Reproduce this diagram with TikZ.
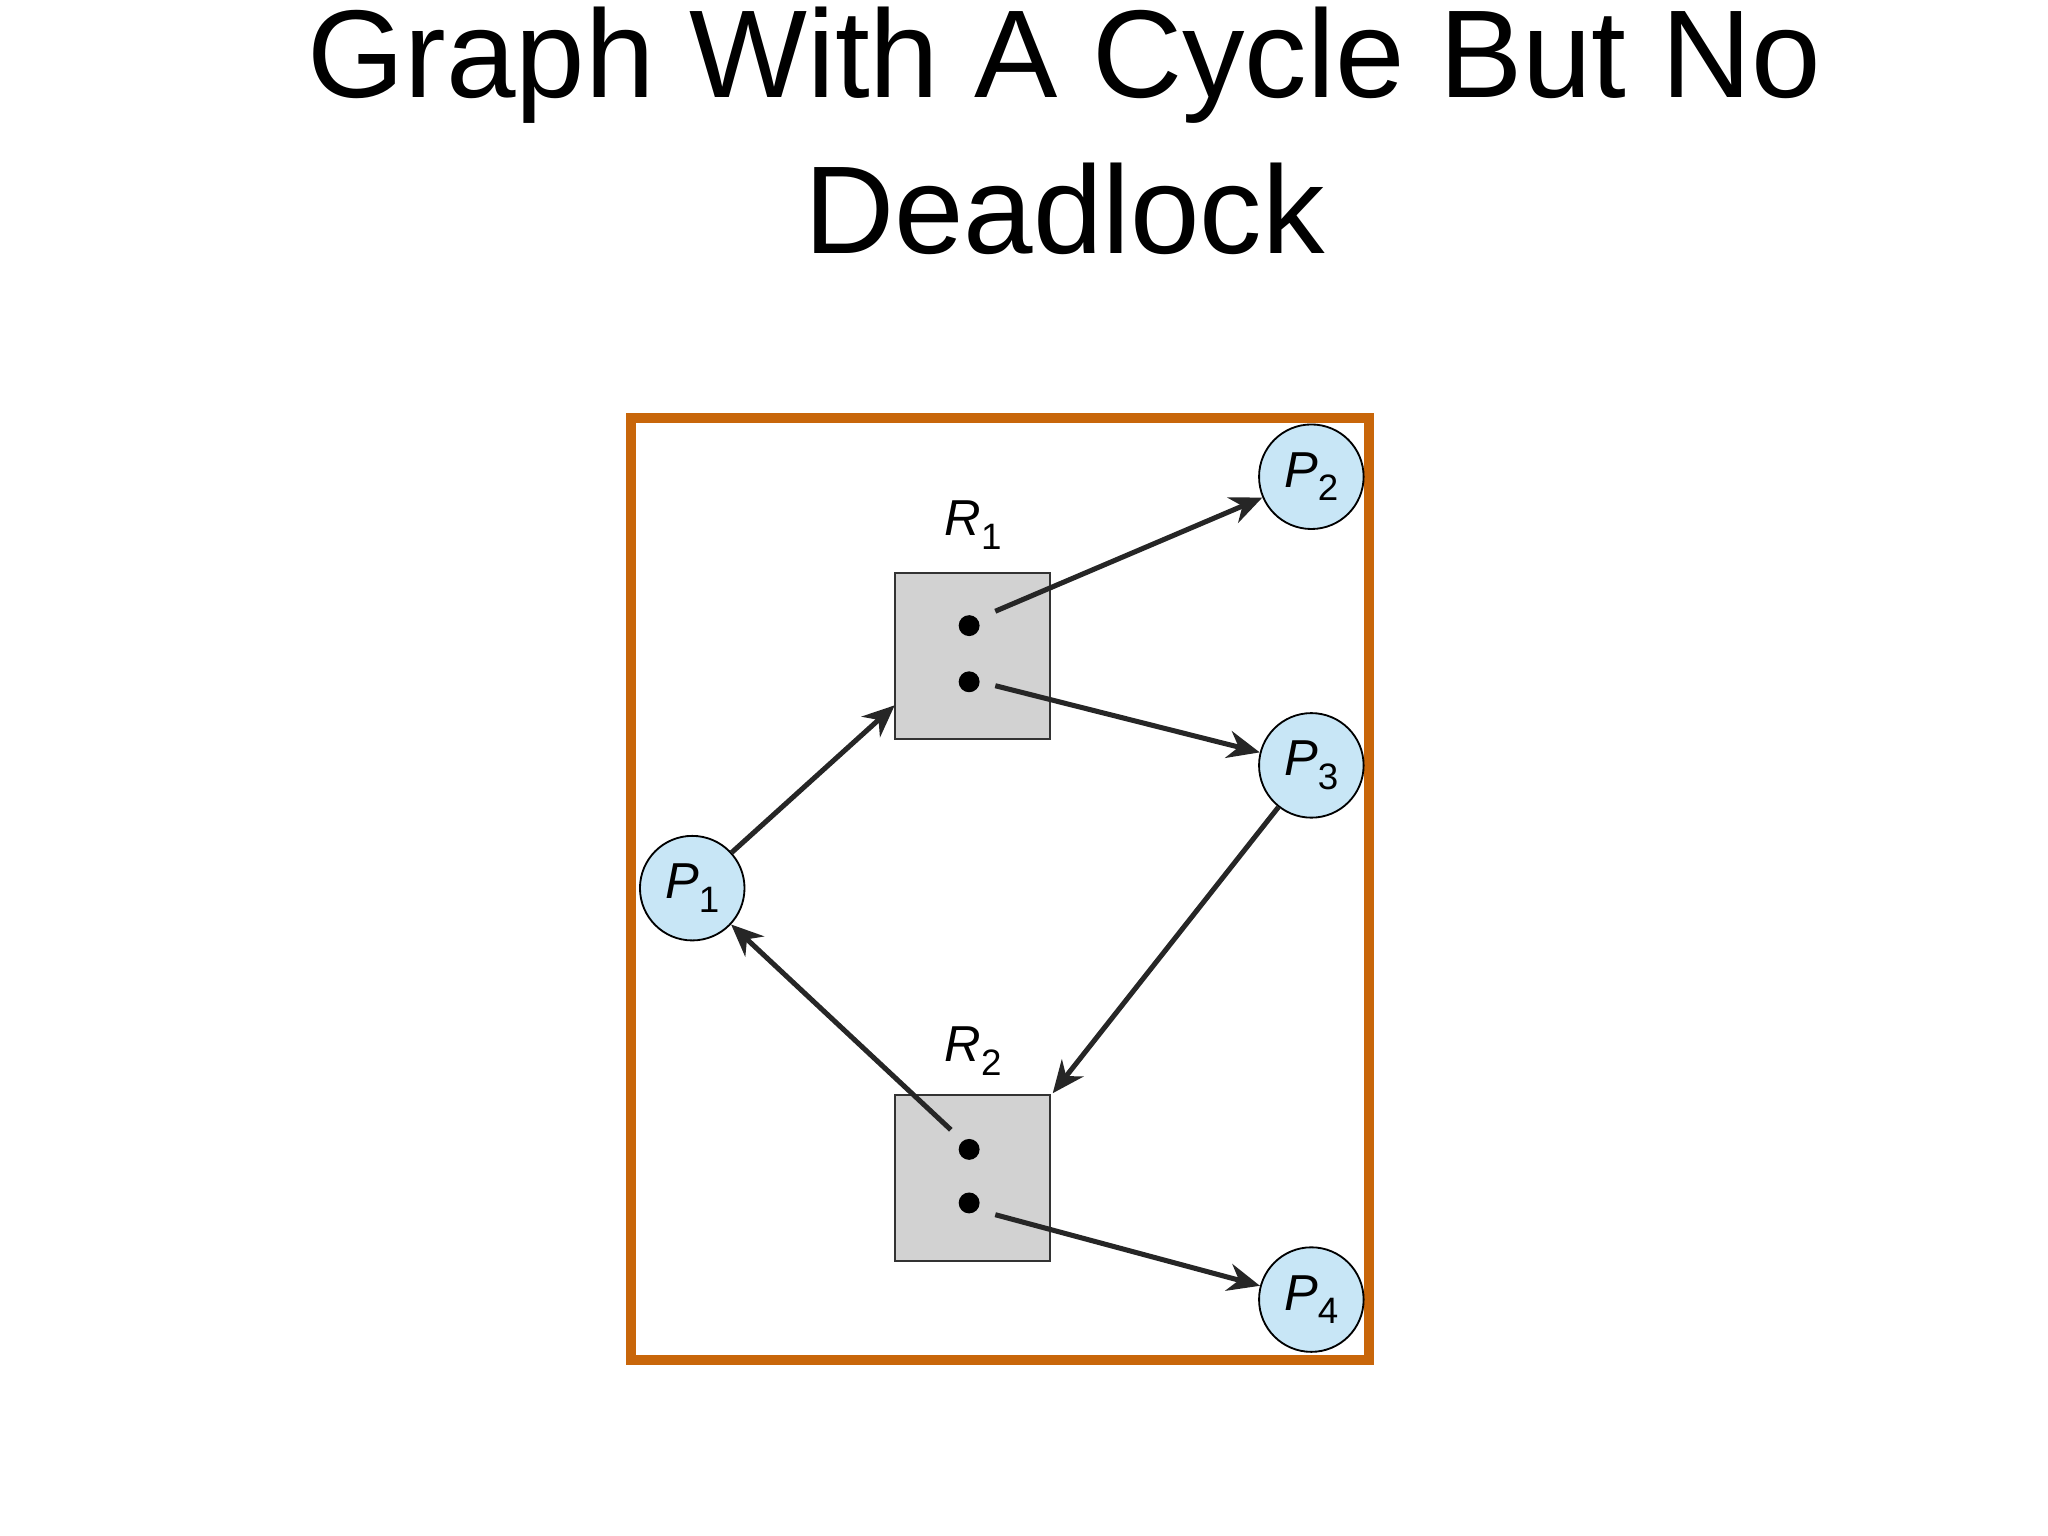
\documentclass[tikz,border=0pt]{standalone}
\usepackage{fontspec}
\setmainfont{Liberation Sans}
\usetikzlibrary{arrows.meta}
\definecolor{frameor}{RGB}{200,102,10}
\definecolor{boxgray}{RGB}{210,210,210}
\definecolor{procblue}{RGB}{200,230,246}
\tikzset{
  proc/.style={circle,draw=black,fill=procblue,minimum size=0.8cm,inner sep=0pt,font=\itshape\fontsize{11}{11}\selectfont},
  res/.style={draw=black!80,fill=boxgray,minimum width=1.19cm,minimum height=1.27cm,inner sep=0pt},
  tok/.style={circle,fill=black,minimum size=0.16cm,inner sep=0pt},
  edge/.style={draw=black!85,line width=1.1pt,-{Stealth[length=7pt,width=6pt]}},
  lbl/.style={font=\itshape\fontsize{11}{11}\selectfont}
}
\begin{document}
\begin{tikzpicture}[x=0.01cm,y=-0.01cm]
\useasboundingbox (0,0) rectangle (1568,1176);
\node[font=\fontsize{27.2}{32}\selectfont] (t1) at (815,50) {Graph With A Cycle But No};
\node[font=\fontsize{27.2}{32}\selectfont] (t2) at (815,160) {Deadlock};
\draw[frameor,line width=2.2pt] (483,320) rectangle (1048,1041);
\node[res] (R1) at (744.5,502) {};
\node[res] (R2) at (744.5,902) {};
\node[lbl] (r1l) at (745,402) {R\raisebox{-3pt}{\fontsize{8}{8}\selectfont\upshape 1}};
\node[lbl] (r2l) at (745,805) {R\raisebox{-3pt}{\fontsize{8}{8}\selectfont\upshape 2}};
\node[tok] (d1) at (742,479) {};
\node[tok] (d2) at (742,522) {};
\node[tok] (d3) at (742,880) {};
\node[tok] (d4) at (742,921) {};
\node[proc] (P1) at (530,680) {P\raisebox{-3pt}{\fontsize{8}{8}\selectfont\upshape 1}};
\node[proc] (P2) at (1004,365) {P\raisebox{-3pt}{\fontsize{8}{8}\selectfont\upshape 2}};
\node[proc] (P3) at (1004,586) {P\raisebox{-3pt}{\fontsize{8}{8}\selectfont\upshape 3}};
\node[proc] (P4) at (1004,995) {P\raisebox{-3pt}{\fontsize{8}{8}\selectfont\upshape 4}};
\coordinate (s1) at (762,468);
\coordinate (s2) at (762,525);
\coordinate (s3) at (728,865);
\coordinate (s4) at (762,930);
\coordinate (c1) at (685,540);
\coordinate (c2) at (806,837);
\draw[edge] (s1) -- (P2);
\draw[edge] (s2) -- (P3);
\draw[edge] (P1) -- (c1);
\draw[edge] (P3) -- (c2);
\draw[edge] (s3) -- (P1);
\draw[edge] (s4) -- (P4);
\end{tikzpicture}
\end{document}
